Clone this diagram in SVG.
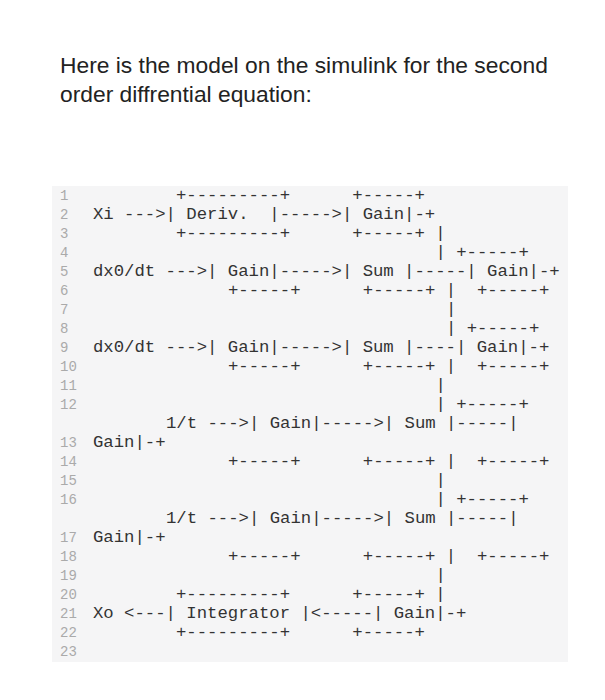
<svg xmlns="http://www.w3.org/2000/svg" width="605" height="700" viewBox="0 0 605 700">
<style>
.t{font-family:"Liberation Sans",Arial,sans-serif;font-size:22.8px;fill:#222}
.c{font-family:"Liberation Mono","DejaVu Sans Mono",monospace;font-size:17.3px;fill:#333}
.n{font-family:"Liberation Mono","DejaVu Sans Mono",monospace;font-size:14px;fill:#aaa}
</style>
<rect width="605" height="700" fill="#fff"/>
<text class="t" x="60" y="73">Here is the model on the simulink for the second</text>
<text class="t" x="60" y="102">order diffrential equation:</text>
<rect x="52" y="186" width="516" height="476" fill="#f5f5f6"/>
<g id="linenumbers" class="n">
<text x="60" y="200">1</text><text x="60" y="219">2</text><text x="60" y="238">3</text><text x="60" y="257">4</text>
<text x="60" y="276">5</text><text x="60" y="295">6</text><text x="60" y="314">7</text><text x="60" y="333">8</text>
<text x="60" y="352">9</text><text x="60" y="371">10</text><text x="60" y="390">11</text><text x="60" y="409">12</text>
<text x="60" y="447">13</text><text x="60" y="466">14</text><text x="60" y="485">15</text><text x="60" y="504">16</text>
<text x="60" y="542">17</text><text x="60" y="561">18</text><text x="60" y="580">19</text><text x="60" y="599">20</text>
<text x="60" y="618">21</text><text x="60" y="637">22</text><text x="60" y="656">23</text>
</g>
<g id="code" class="c">
<text x="176" y="200">+---------+&#160;&#160;&#160;&#160;&#160;&#160;+-----+</text>
<text x="93" y="219">Xi&#160;---&gt;|&#160;Deriv.&#160;&#160;|-----&gt;|&#160;Gain|-+</text>
<text x="176" y="238">+---------+&#160;&#160;&#160;&#160;&#160;&#160;+-----+&#160;|</text>
<text x="435.5" y="257">|&#160;+-----+</text>
<text x="93" y="276">dx0/dt&#160;---&gt;|&#160;Gain|-----&gt;|&#160;Sum&#160;|-----|&#160;Gain|-+</text>
<text x="228" y="295">+-----+&#160;&#160;&#160;&#160;&#160;&#160;+-----+&#160;|&#160;&#160;+-----+</text>
<text x="446" y="314">|</text>
<text x="446" y="333">|&#160;+-----+</text>
<text x="93" y="352">dx0/dt&#160;---&gt;|&#160;Gain|-----&gt;|&#160;Sum&#160;|----|&#160;Gain|-+</text>
<text x="228" y="371">+-----+&#160;&#160;&#160;&#160;&#160;&#160;+-----+&#160;|&#160;&#160;+-----+</text>
<text x="435.5" y="390">|</text>
<text x="435.5" y="409">|&#160;+-----+</text>
<text x="166" y="428">1/t&#160;---&gt;|&#160;Gain|-----&gt;|&#160;Sum&#160;|-----|</text>
<text x="93" y="447">Gain|-+</text>
<text x="228" y="466">+-----+&#160;&#160;&#160;&#160;&#160;&#160;+-----+&#160;|&#160;&#160;+-----+</text>
<text x="435.5" y="485">|</text>
<text x="435.5" y="504">|&#160;+-----+</text>
<text x="166" y="523">1/t&#160;---&gt;|&#160;Gain|-----&gt;|&#160;Sum&#160;|-----|</text>
<text x="93" y="542">Gain|-+</text>
<text x="228" y="561">+-----+&#160;&#160;&#160;&#160;&#160;&#160;+-----+&#160;|&#160;&#160;+-----+</text>
<text x="435.5" y="580">|</text>
<text x="176" y="599">+---------+&#160;&#160;&#160;&#160;&#160;&#160;+-----+&#160;|</text>
<text x="93" y="618">Xo&#160;&lt;---|&#160;Integrator&#160;|&lt;-----|&#160;Gain|-+</text>
<text x="176" y="637">+---------+&#160;&#160;&#160;&#160;&#160;&#160;+-----+</text>
</g>
</svg>
